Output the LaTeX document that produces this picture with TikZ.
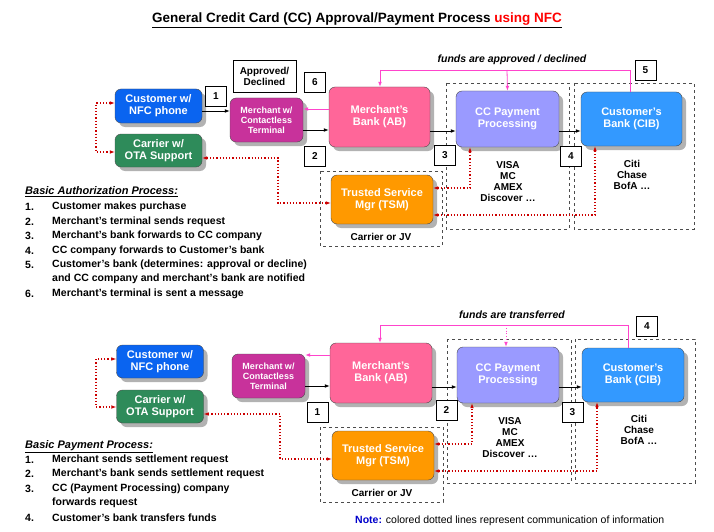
\documentclass[tikz,border=0pt]{standalone}
\usepackage{fontspec}
\setmainfont{Liberation Sans}
\usetikzlibrary{shadows,arrows.meta}
\definecolor{cblue}{HTML}{0A64F0}
\definecolor{cgreen}{HTML}{2E8B5A}
\definecolor{cmag}{HTML}{C8329B}
\definecolor{cpink}{HTML}{FF6699}
\definecolor{clav}{HTML}{9A9AFF}
\definecolor{ccib}{HTML}{3399FF}
\definecolor{corange}{HTML}{FF9900}
\definecolor{dred}{HTML}{CC0000}
\definecolor{lpink}{HTML}{FF44CC}
\begin{document}
\begin{tikzpicture}[x=1pt,y=-1pt,
 box/.style={draw=black!70,rounded corners=6pt,text=white,font=\bfseries\fontsize{11}{12}\selectfont,align=center,inner sep=0pt,drop shadow={shadow xshift=4pt,shadow yshift=-4pt,fill=black!30,opacity=1}},
 sbox/.style={box,font=\bfseries\fontsize{9}{10}\selectfont},
 num/.style={draw,fill=white,minimum width=21pt,minimum height=20pt,inner sep=0pt,font=\bfseries\fontsize{10}{11}\selectfont},
 dbox/.style={draw=black!70,dashed},
 lbl/.style={font=\bfseries\fontsize{10}{11}\selectfont,align=center},
 blk/.style={-{Latex[length=5pt]},thick},
 pnk/.style={-{Latex[length=5pt]},thick,lpink},
 rd/.style={{Latex[length=5pt]}-{Latex[length=5pt]},dred,very thick,dotted},
 itm/.style={anchor=west,font=\bfseries\fontsize{10.5}{12}\selectfont,inner sep=0pt},
 hd/.style={anchor=west,font=\bfseries\itshape\fontsize{11}{12}\selectfont,inner sep=0pt},
 fnd/.style={font=\bfseries\itshape\fontsize{10.5}{12}\selectfont}]
\useasboundingbox (0,0) rectangle (714,532);
\fill[white] (0,0) rectangle (714,532);
\node (title) at (357,20) {\bfseries\fontsize{13.5}{15}\selectfont\underline{General Credit Card (CC) Approval/Payment Process \textcolor{red}{using NFC}}};
% ===== TOP =====
\draw[dbox] (446,83) rectangle (569,229);
\draw[dbox] (574,83) rectangle (694,229);
\draw[dbox] (320,171) rectangle (442,246);
\node[box,fill=cblue,minimum width=87pt,minimum height=34pt] (cu) at (158.5,106) {Customer w/\\NFC phone};
\node[box,fill=cgreen,minimum width=87pt,minimum height=33pt] (ca) at (158.5,150.5) {Carrier w/\\OTA Support};
\node[sbox,fill=cmag,minimum width=73pt,minimum height=44pt] (mt) at (266.5,120) {Merchant w/\\Contactless\\Terminal};
\node[box,fill=cpink,minimum width=101pt,minimum height=60pt] (ab) at (379.5,117) {Merchant's\\Bank (AB)};
\node[box,fill=clav,minimum width=103pt,minimum height=56pt] (cc) at (507.5,119) {CC Payment\\Processing};
\node[box,fill=ccib,minimum width=101pt,minimum height=54pt] (cib) at (631.5,119) {Customer's\\Bank (CIB)};
\node[box,fill=corange,minimum width=102pt,minimum height=49pt] (tsm) at (382,199.5) {Trusted Service\\Mgr (TSM)};
\node[draw,fill=white,minimum width=63pt,minimum height=32pt,inner sep=0pt,lbl] (ad) at (264.5,76) {Approved/\\Declined};
\node[num] (n1) at (216,96) {1};
\node[num] (n2) at (315,156) {2};
\node[num] (n3) at (445,155) {3};
\node[num] (n4) at (571,156) {4};
\node[num] (n5) at (645.5,70) {5};
\node[num] (n6) at (315,82.5) {6};
\node[lbl] (cj) at (381,237) {Carrier or JV};
\node[lbl,align=center] (cco) at (508,182) {VISA\\MC\\AMEX\\Discover \dots};
\node[lbl,align=center] (cbo) at (632,175) {Citi\\Chase\\BofA \dots};
\node[fnd] (fa) at (512,60) {funds are approved / declined};
\draw[blk] (cu.east|-0,111) -- (mt.west|-0,111);
\draw[blk] (mt.east|-0,130) -- (ab.west|-0,130);
\draw[blk] (ab.east|-0,131) -- (cc.west|-0,131);
\draw[blk] (cc.east|-0,131) -- (cib.west|-0,131);
\draw[pnk] (ab.west|-0,109) -- (mt.east|-0,109);
\draw[pnk,-] (cib.north-|630,0) -- (630,70) -- (380,70);
\draw[pnk] (380,70) -- (ab.north-|380,0);
\draw[pnk] (507,70) -- (cc.north);
\coordinate (cl1) at (96,103); \coordinate (cl2) at (96,152);
\draw[rd] (cu.west|-cl1) -- (cl1) -- (cl2) -- (ca.west|-cl2);
\draw[rd] (ca.east|-0,158) -- (278,158) -- (278,203) -- (tsm.west|-0,203);
\draw[rd] (tsm.east|-0,188) -- (470,188) -- (cc.south-|470,0);
\draw[rd] (tsm.east|-0,215) -- (595,215) -- (cib.south-|595,0);
\node[hd] (h1) at (25,192) {\underline{Basic Authorization Process:}};
\foreach \n/\t/\y in {1./Customer makes purchase/207,2./Merchant's terminal sends request/222,3./Merchant's bank forwards to CC company/236,4./CC company forwards to Customer's bank/251,5./Customer's bank (determines: approval or decline)/265,6./Merchant's terminal is sent a message/294}
 {\node[itm] at (25,\y) {\n}; \node[itm] at (52,\y) {\t};}
\node[itm] (i5b) at (52,279) {and CC company and merchant's bank are notified};
% ===== BOTTOM =====
\draw[dbox] (447,339) rectangle (571,483);
\draw[dbox] (575,339) rectangle (695,483);
\draw[dbox] (320,427) rectangle (443,502);
\node[box,fill=cblue,minimum width=87pt,minimum height=33pt] (cu2) at (160,361.5) {Customer w/\\NFC phone};
\node[box,fill=cgreen,minimum width=87pt,minimum height=33pt] (ca2) at (160,406.5) {Carrier w/\\OTA Support};
\node[sbox,fill=cmag,minimum width=73pt,minimum height=44pt] (mt2) at (268.5,376) {Merchant w/\\Contactless\\Terminal};
\node[box,fill=cpink,minimum width=102pt,minimum height=60pt] (ab2) at (381,373) {Merchant's\\Bank (AB)};
\node[box,fill=clav,minimum width=102pt,minimum height=56pt] (cc2) at (508,375) {CC Payment\\Processing};
\node[box,fill=ccib,minimum width=102pt,minimum height=54pt] (cib2) at (633,375) {Customer's\\Bank (CIB)};
\node[box,fill=corange,minimum width=102pt,minimum height=49pt] (tsm2) at (383,455.5) {Trusted Service\\Mgr (TSM)};
\node[num] (m1) at (317.5,412) {1};
\node[num] (m2) at (446.5,410) {2};
\node[num] (m3) at (572.5,412) {3};
\node[num] (m4) at (647,326) {4};
\node[lbl] (cj2) at (382,493) {Carrier or JV};
\node[lbl,align=center] (cco2) at (510,438) {VISA\\MC\\AMEX\\Discover \dots};
\node[lbl,align=center] (cbo2) at (639,430) {Citi\\Chase\\BofA \dots};
\node[fnd] (ft) at (512,315) {funds are transferred};
\draw[blk] (mt2.east|-0,386) -- (ab2.west|-0,386);
\draw[blk] (ab2.east|-0,387) -- (cc2.west|-0,387);
\draw[blk] (cc2.east|-0,387) -- (cib2.west|-0,387);
\draw[pnk] (ab2.west|-0,355) -- (mt2.east|-0,355);
\draw[pnk,-] (cib2.north-|628,0) -- (628,325) -- (380,325);
\draw[pnk] (380,325) -- (ab2.north-|380,0);
\draw[pnk,dotted] (506,325) -- (cc2.north-|506,0);
\coordinate (dl1) at (96,359); \coordinate (dl2) at (96,407);
\draw[rd] (cu2.west|-dl1) -- (dl1) -- (dl2) -- (ca2.west|-dl2);
\draw[rd] (ca2.east|-0,414) -- (280,414) -- (280,459) -- (tsm2.west|-0,459);
\draw[rd] (tsm2.east|-0,444) -- (472,444) -- (cc2.south-|472,0);
\draw[rd] (tsm2.east|-0,471) -- (597,471) -- (cib2.south-|597,0);
\node[hd] (h2) at (25,447) {\underline{Basic Payment Process:}};
\foreach \n/\t/\y in {1./Merchant sends settlement request/460,2./Merchant's bank sends settlement request/474,3./CC (Payment Processing) company/489,4./Customer's bank transfers funds/518}
 {\node[itm] at (25,\y) {\n}; \node[itm] at (52,\y) {\t};}
\node[itm] (j3b) at (52,503) {forwards request};
\node[anchor=west,inner sep=0pt,font=\fontsize{10.5}{12}\selectfont] (note) at (355,521) {\textcolor{blue!80!black}{\bfseries Note:} colored dotted lines represent communication of information};
\end{tikzpicture}
\end{document}
